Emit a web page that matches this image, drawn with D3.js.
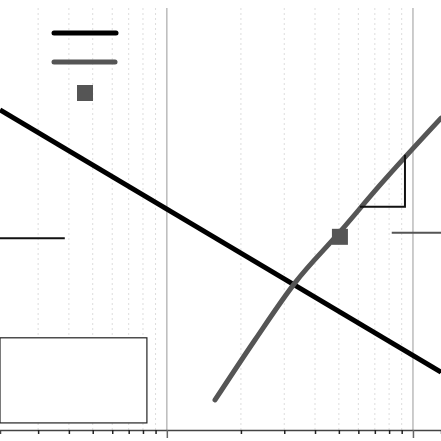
<!DOCTYPE html><html><head><script src="https://cdn.jsdelivr.net/npm/d3@7"></script>
<style>body{margin:0;background:#fff}</style></head><body><svg id="c" width="441" height="441"></svg>
<script>
const blackX=[0.21,13], blackY=[75.1,15.6];
const grayX=[1.57,2.28,3.31,5.05,7.34,13], grayY=[9.3,22.9,35.8,47.4,58,73.2];
const squarePt=[5.05,46.3];
const triX=[6.09,9.28,9.28], triY=[53.1,53.1,64.9];
const segL=[[0.21,46.0],[0.385,46.0]], segR=[[8.2,47.2],[13,47.2]];
const boxX=[0.21,0.83], boxY=[4.1,23.4];
const decades=[1,10];
const svg=d3.select("#c");
const x=d3.scaleLog().domain([0.21,13]).range([0,441]);
const y=d3.scaleLinear().domain([0,100]).range([441,0]);
const minors=[];[0.1,1,10].forEach(d=>{for(let k=2;k<10;k++){const v=d*k;if(v>0.21&&v<13)minors.push(v);}});
svg.selectAll(".mg").data(minors).join("line").attr("x1",d=>x(d)).attr("x2",d=>x(d)).attr("y1",8).attr("y2",430).attr("stroke","#ddd").attr("stroke-dasharray","2,3");
svg.selectAll(".dg").data(decades).join("line").attr("x1",d=>x(d)).attr("x2",d=>x(d)).attr("y1",8).attr("y2",430).attr("stroke","#bbb").attr("stroke-width",1.5);
const ax=svg.append("g").attr("transform","translate(0,430)").call(d3.axisBottom(x).tickValues(minors).tickSize(4).tickFormat(""));
ax.select(".domain").attr("stroke","#444").attr("stroke-width",1.5);
ax.selectAll(".tick line").attr("stroke","#222").attr("stroke-width",1.5);
svg.append("g").attr("transform","translate(0,430)").call(d3.axisBottom(x).tickValues(decades).tickSize(8).tickFormat("")).call(g=>g.select(".domain").remove()).selectAll("line").attr("stroke","#666").attr("stroke-width",1.5);
svg.append("rect").attr("x",x(boxX[0])).attr("y",y(boxY[1])).attr("width",x(boxX[1])-x(boxX[0])).attr("height",y(boxY[0])-y(boxY[1])).attr("fill","#fff").attr("stroke","#222").attr("stroke-width",1.2);
const ln=d3.line().x(d=>x(d[0])).y(d=>y(d[1]));
svg.append("path").attr("d",ln(blackX.map((v,i)=>[v,blackY[i]]))).attr("stroke","#000").attr("stroke-width",5).attr("fill","none");
svg.append("path").attr("d",d3.line().x(d=>x(d[0])).y(d=>y(d[1])).curve(d3.curveMonotoneX)(grayX.map((v,i)=>[v,grayY[i]]))).attr("stroke","#555").attr("stroke-width",5).attr("stroke-linecap","round").attr("fill","none");
svg.append("path").attr("d",ln(triX.map((v,i)=>[v,triY[i]]))).attr("stroke","#111").attr("stroke-width",2).attr("fill","none");
[segL,segR].forEach(s=>svg.append("path").attr("d",ln(s)).attr("stroke",s===segL?"#111":"#555").attr("stroke-width",2));
svg.append("rect").attr("x",x(squarePt[0])-8).attr("y",y(squarePt[1])-8).attr("width",16).attr("height",16).attr("fill","#555");
svg.append("line").attr("x1",54).attr("x2",116).attr("y1",33).attr("y2",33).attr("stroke","#000").attr("stroke-width",5).attr("stroke-linecap","round");
svg.append("line").attr("x1",54).attr("x2",115).attr("y1",62).attr("y2",62).attr("stroke","#555").attr("stroke-width",5).attr("stroke-linecap","round");
svg.append("rect").attr("x",77).attr("y",85).attr("width",16).attr("height",16).attr("fill","#555");
</script></body></html>
